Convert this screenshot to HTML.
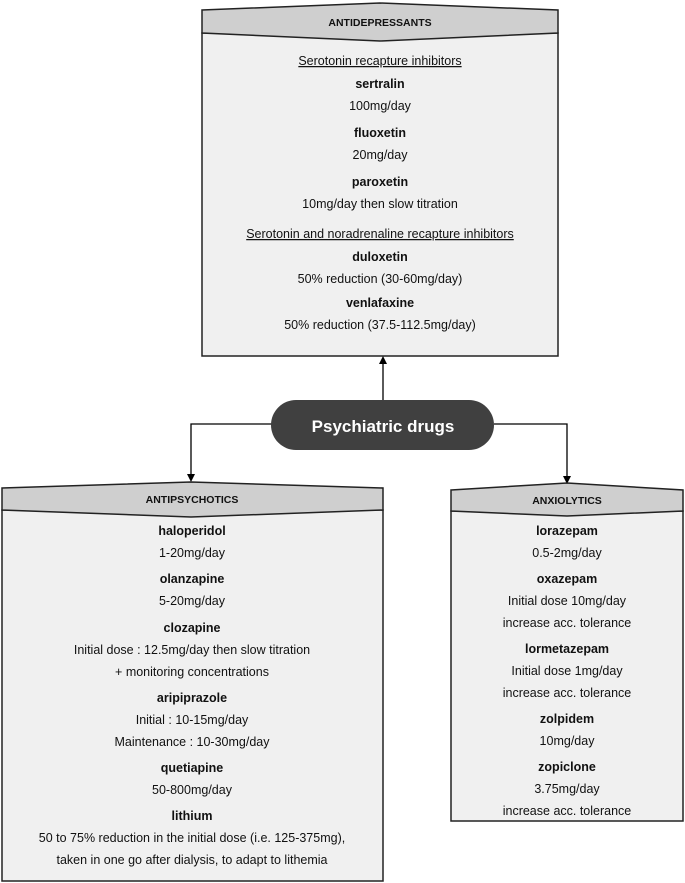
<!DOCTYPE html>
<html><head><meta charset="utf-8"><style>
html,body{margin:0;padding:0;background:#fff;}
svg{display:block;}
text{font-family:"Liberation Sans",sans-serif;font-size:12.5px;fill:#111;text-anchor:middle;}
.b{font-weight:bold;}
.h{font-weight:bold;font-size:10.5px;}
.u{text-decoration:underline;}
</style></head><body>
<svg width="685" height="883" viewBox="0 0 685 883" xmlns="http://www.w3.org/2000/svg">
<defs><marker id="a" markerWidth="8" markerHeight="8" refX="4" refY="4" orient="auto" markerUnits="userSpaceOnUse"><path d="M0,0 L8,4 L0,8 z" fill="#000"/></marker></defs>
<!-- top box -->
<rect x="202" y="33" width="356" height="323" fill="#f0f0f0" stroke="#222" stroke-width="1.5"/>
<polygon points="202,10 380,3 558,10 558,33 380,41 202,33" fill="#cfcfcf" stroke="#222" stroke-width="1.5"/>
<text class="h" x="380" y="26">ANTIDEPRESSANTS</text>
<text class="u" x="380" y="65">Serotonin recapture inhibitors</text>
<text class="b" x="380" y="88">sertralin</text>
<text x="380" y="110">100mg/day</text>
<text class="b" x="380" y="137">fluoxetin</text>
<text x="380" y="159">20mg/day</text>
<text class="b" x="380" y="186">paroxetin</text>
<text x="380" y="208">10mg/day then slow titration</text>
<text class="u" x="380" y="238">Serotonin and noradrenaline recapture inhibitors</text>
<text class="b" x="380" y="261">duloxetin</text>
<text x="380" y="283">50% reduction (30-60mg/day)</text>
<text class="b" x="380" y="307">venlafaxine</text>
<text x="380" y="329">50% reduction (37.5-112.5mg/day)</text>
<!-- connectors -->
<line x1="383" y1="400" x2="383" y2="360" stroke="#000" stroke-width="1.3" marker-end="url(#a)"/>
<polyline points="272,424 191,424 191,478" fill="none" stroke="#000" stroke-width="1.3" marker-end="url(#a)"/>
<polyline points="494,424 567,424 567,480" fill="none" stroke="#000" stroke-width="1.3" marker-end="url(#a)"/>
<!-- pill -->
<rect x="271" y="400" width="223" height="50" rx="25" fill="#404040"/>
<text x="383" y="432" style="font-size:17px;font-weight:bold;fill:#fff">Psychiatric drugs</text>
<!-- left box -->
<rect x="2" y="510" width="381" height="371" fill="#f0f0f0" stroke="#222" stroke-width="1.5"/>
<polygon points="2,488 191,482 383,488 383,510 191,517 2,510" fill="#cfcfcf" stroke="#222" stroke-width="1.5"/>
<text class="h" x="192" y="503">ANTIPSYCHOTICS</text>
<text class="b" x="192" y="535">haloperidol</text>
<text x="192" y="557">1-20mg/day</text>
<text class="b" x="192" y="583">olanzapine</text>
<text x="192" y="605">5-20mg/day</text>
<text class="b" x="192" y="632">clozapine</text>
<text x="192" y="654">Initial dose : 12.5mg/day then slow titration</text>
<text x="192" y="676">+ monitoring concentrations</text>
<text class="b" x="192" y="702">aripiprazole</text>
<text x="192" y="724">Initial : 10-15mg/day</text>
<text x="192" y="746">Maintenance : 10-30mg/day</text>
<text class="b" x="192" y="772">quetiapine</text>
<text x="192" y="794">50-800mg/day</text>
<text class="b" x="192" y="820">lithium</text>
<text x="192" y="842">50 to 75%  reduction in the initial dose (i.e. 125-375mg),</text>
<text x="192" y="864">taken in one go after dialysis, to adapt to lithemia</text>
<!-- right box -->
<rect x="451" y="511" width="232" height="310" fill="#f0f0f0" stroke="#222" stroke-width="1.5"/>
<polygon points="451,490 567,483 683,490 683,511 567,516 451,511" fill="#cfcfcf" stroke="#222" stroke-width="1.5"/>
<text class="h" x="567" y="504">ANXIOLYTICS</text>
<text class="b" x="567" y="535">lorazepam</text>
<text x="567" y="557">0.5-2mg/day</text>
<text class="b" x="567" y="583">oxazepam</text>
<text x="567" y="605">Initial dose 10mg/day</text>
<text x="567" y="627">increase acc. tolerance</text>
<text class="b" x="567" y="653">lormetazepam</text>
<text x="567" y="675">Initial dose 1mg/day</text>
<text x="567" y="697">increase acc. tolerance</text>
<text class="b" x="567" y="723">zolpidem</text>
<text x="567" y="745">10mg/day</text>
<text class="b" x="567" y="771">zopiclone</text>
<text x="567" y="793">3.75mg/day</text>
<text x="567" y="815">increase acc. tolerance</text>
</svg>
</body></html>
